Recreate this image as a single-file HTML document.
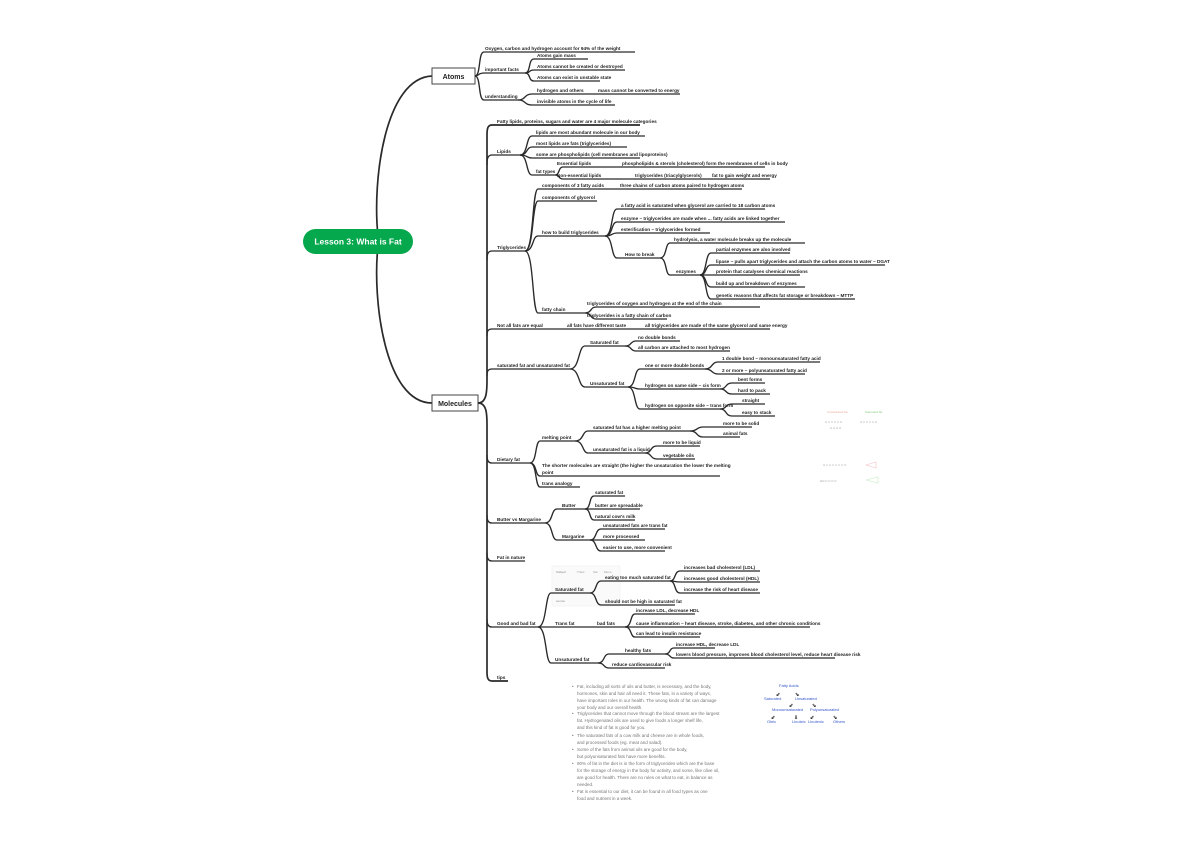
<!DOCTYPE html>
<html><head><meta charset="utf-8"><style>
html,body{margin:0;padding:0;background:#fff;}
svg{display:block;}
text{font-family:"Liberation Sans",sans-serif;font-size:4.7px;font-weight:bold;fill:#222;}
.c{fill:none;stroke:#2a2a2a;stroke-width:1.35;}
.t{fill:none;stroke:#2a2a2a;stroke-width:1.7;}
.b text{fill:#777;font-size:4.5px;font-weight:normal;}
.bl{fill:#35c;font-size:4px;font-weight:normal;}
</style></head><body>
<svg width="1200" height="849" viewBox="0 0 1200 849" xmlns="http://www.w3.org/2000/svg">
<path class="t" d="M378 236 C372 180 385 78 432 76"/>
<path class="t" d="M378 246 C372 300 385 403 432 403"/>
<rect x="303" y="229" width="110" height="25" rx="12.5" fill="#06a84d"/>
<text x="358" y="244.5" text-anchor="middle" style="fill:#fff;font-size:8.5px;font-weight:bold">Lesson 3: What is Fat</text>
<rect x="432" y="68" width="43" height="16" fill="#fff" stroke="#444" stroke-width="1"/>
<text x="453.5" y="79" text-anchor="middle" style="font-size:7px;font-weight:bold">Atoms</text>
<rect x="432" y="395" width="46" height="16" fill="#fff" stroke="#444" stroke-width="1"/>
<text x="455" y="406" text-anchor="middle" style="font-size:7px;font-weight:bold">Molecules</text>

<g>
<path class="c" d="M475 76 C481 76 478 52 484 52 L635 52"/><text x="485" y="50">Oxygen, carbon and hydrogen account for 94% of the weight</text>
<path class="c" d="M475 76 C479 76 478 73 484 73 L525 73"/><text x="485" y="71">important facts</text>
<path class="c" d="M475 76 C481 76 478 100 484 100 L518 100"/><text x="485" y="98">understanding</text>
<path class="c" d="M525 73 C531 73 528 59 534 59 L588 59"/><text x="537" y="57">Atoms gain mass</text>
<path class="c" d="M525 73 C531 73 528 70 534 70 L625 70"/><text x="537" y="68">Atoms cannot be created or destroyed</text>
<path class="c" d="M525 73 C531 73 528 81 534 81 L600 81"/><text x="537" y="79">Atoms can exist in unstable state</text>
<path class="c" d="M518 100 C526 100 524 94 532 94 L680 94"/><text x="537" y="92">hydrogen and others</text><text x="598" y="92">mass cannot be converted to energy</text>
<path class="c" d="M518 100 C526 100 524 105 532 105 L615 105"/><text x="537" y="103">invisible atoms in the cycle of life</text>
</g>

<g>
<path class="t" d="M478 403 C487 403 487 390 487 380 L487 135 C487 128 488 125 492 125 L640 125"/><text x="497" y="123">Fatty lipids, proteins, sugars and water are 4 major molecule categories</text>
<path class="t" d="M478 403 C487 403 487 415 487 425 L487 672 C487 678 488 681 492 681 L508 681"/><text x="497" y="679">tips</text>
<path class="c" d="M487 165 C487 158 488 155 492 155 L520 155"/><text x="497" y="153">Lipids</text>
<path class="c" d="M487 260 C487 254 488 251 492 251 L525 251"/><text x="497" y="249">Triglycerides</text>
<path class="c" d="M487 336 C487 331 488 329 492 329 L770 329"/><text x="497" y="327">Not all fats are equal</text><text x="567" y="327">all fats have different taste</text><text x="645" y="327">all triglycerides are made of the same glycerol and same energy</text>
<path class="c" d="M487 376 C487 371 488 369 492 369 L570 369"/><text x="497" y="367">saturated fat and unsaturated fat</text>
<path class="c" d="M487 455 C487 460 488 463 492 463 L530 463"/><text x="497" y="461">Dietary fat</text>
<path class="c" d="M487 515 C487 520 488 523 492 523 L545 523"/><text x="497" y="521">Butter vs Margarine</text>
<path class="c" d="M487 553 C487 558 488 561 492 561 L525 561"/><text x="497" y="559">Fat in nature</text>
<path class="c" d="M487 619 C487 624 488 627 492 627 L538 627"/><text x="497" y="625">Good and bad fat</text>
</g>

<g>
<path class="c" d="M520 155 C528 155 526 136 532 136 L645 136"/><text x="536" y="134">lipids are most abundant molecule in our body</text>
<path class="c" d="M520 155 C528 155 526 147 532 147 L627 147"/><text x="536" y="145">most lipids are fats (triglycerides)</text>
<path class="c" d="M520 155 C528 155 526 158 532 158 L640 158"/><text x="536" y="156">some are phospholipids (cell membranes and lipoproteins)</text>
<path class="c" d="M520 155 C528 155 526 175 532 175 L555 175"/><text x="536" y="173">fat types</text>
<path class="c" d="M555 175 C560 175 558 167 563 167 L765 167"/><text x="557" y="165">Essential lipids</text><text x="622" y="165">phospholipids &amp; sterols (cholesterol) form the membranes of cells in body</text>
<path class="c" d="M555 175 C560 175 558 179 563 179 L770 179"/><text x="557" y="177">Non-essential lipids</text><text x="635" y="177">triglycerides (triacylglycerols)</text><text x="712" y="177">fat to gain weight and energy</text>
</g>

<g>
<path class="c" d="M525 251 C534 251 532 189 538 189 L742 189"/><text x="542" y="187">components of 3 fatty acids</text><text x="620" y="187">three chains of carbon atoms paired to hydrogen atoms</text>
<path class="c" d="M525 251 C534 251 532 201 538 201 L597 201"/><text x="542" y="199">components of glycerol</text>
<path class="c" d="M525 251 C534 251 532 236 538 236 L605 236"/><text x="542" y="234">how to build triglycerides</text>
<path class="c" d="M525 251 C534 251 532 313 538 313 L585 313"/><text x="542" y="311">fatty chain</text>
<path class="c" d="M605 236 C613 236 611 209 617 209 L765 209"/><text x="621" y="207">a fatty acid is saturated when glycerol are carried to 18 carbon atoms</text>
<path class="c" d="M605 236 C613 236 611 222 617 222 L785 222"/><text x="621" y="220">enzyme – triglycerides are made when ... fatty acids are linked together</text>
<path class="c" d="M605 236 C613 236 611 233 617 233 L710 233"/><text x="621" y="231">esterification – triglycerides formed</text>
<path class="c" d="M605 236 C613 236 611 258 617 258 L660 258"/><text x="625" y="256">How to break</text>
<path class="c" d="M660 258 C667 258 665 243 670 243 L805 243"/><text x="674" y="241">hydrolysis, a water molecule breaks up the molecule</text>
<path class="c" d="M660 258 C667 258 665 275 670 275 L700 275"/><text x="676" y="273">enzymes</text>
<path class="c" d="M700 275 C707 275 705 253 711 253 L790 253"/><text x="716" y="251">partial enzymes are also involved</text>
<path class="c" d="M700 275 C707 275 705 265 711 265 L885 265"/><text x="716" y="263">lipase – pulls apart triglycerides and attach the carbon atoms to water – DGAT</text>
<path class="c" d="M700 275 C707 275 705 275 711 275 L800 275"/><text x="716" y="273">protein that catalyses chemical reactions</text>
<path class="c" d="M700 275 C707 275 705 287 711 287 L805 287"/><text x="716" y="285">build up and breakdown of enzymes</text>
<path class="c" d="M700 275 C707 275 705 299 711 299 L855 299"/><text x="716" y="297">genetic reasons that affects fat storage or breakdown – MTTP</text>
<path class="c" d="M585 313 C592 313 590 307 596 307 L760 307"/><text x="587" y="305">triglycerides of oxygen and hydrogen at the end of the chain</text>
<path class="c" d="M585 313 C592 313 590 319 596 319 L667 319"/><text x="587" y="317">triglycerides is a fatty chain of carbon</text>
</g>

<g>
<path class="c" d="M570 369 C580 369 578 346 585 346 L625 346"/><text x="590" y="344">Saturated fat</text>
<path class="c" d="M570 369 C580 369 578 387 585 387 L628 387"/><text x="590" y="385">Unsaturated fat</text>
<path class="c" d="M625 346 C632 346 630 341 636 341 L680 341"/><text x="638" y="339">no double bonds</text>
<path class="c" d="M625 346 C632 346 630 351 636 351 L730 351"/><text x="638" y="349">all carbon are attached to most hydrogen</text>
<path class="c" d="M628 387 C636 387 634 369 640 369 L705 369"/><text x="645" y="367">one or more double bonds</text>
<path class="c" d="M628 387 C636 387 634 389 640 389 L720 389"/><text x="645" y="387">hydrogen on same side – cis form</text>
<path class="c" d="M628 387 C636 387 634 409 640 409 L720 409"/><text x="645" y="407">hydrogen on opposite side – trans form</text>
<path class="c" d="M705 369 C713 369 711 362 718 362 L820 362"/><text x="722" y="360">1 double bond – monounsaturated fatty acid</text>
<path class="c" d="M705 369 C713 369 711 374 718 374 L805 374"/><text x="722" y="372">2 or more – polyunsaturated fatty acid</text>
<path class="c" d="M720 389 C727 389 725 383 732 383 L765 383"/><text x="738" y="381">bent forms</text>
<path class="c" d="M720 389 C727 389 725 394 732 394 L770 394"/><text x="738" y="392">hard to pack</text>
<path class="c" d="M720 409 C727 409 725 404 732 404 L765 404"/><text x="742" y="402">straight</text>
<path class="c" d="M720 409 C727 409 725 416 732 416 L775 416"/><text x="742" y="414">easy to stack</text>
</g>

<g>
<path class="c" d="M530 463 C537 463 535 441 540 441 L575 441"/><text x="542" y="439">melting point</text>
<path class="c" d="M530 463 C537 463 535 476 540 476 L720 476"/><text x="542" y="467">The shorter molecules are straight (the higher the unsaturation the lower the melting</text><text x="542" y="474">point</text>
<path class="c" d="M530 463 C537 463 535 487 540 487 L580 487"/><text x="542" y="485">trans analogy</text>
<path class="c" d="M575 441 C584 441 582 431 588 431 L690 431"/><text x="593" y="429">saturated fat has a higher melting point</text>
<path class="c" d="M575 441 C584 441 582 453 588 453 L645 453"/><text x="593" y="451">unsaturated fat is a liquid</text>
<path class="c" d="M690 431 C698 431 696 427 703 427 L752 427"/><text x="723" y="425">more to be solid</text>
<path class="c" d="M690 431 C698 431 696 437 703 437 L740 437"/><text x="723" y="435">animal fats</text>
<path class="c" d="M645 453 C652 453 650 446 657 446 L700 446"/><text x="663" y="444">more to be liquid</text>
<path class="c" d="M645 453 C652 453 650 459 657 459 L695 459"/><text x="663" y="457">vegetable oils</text>
</g>

<g>
<path class="c" d="M545 523 C553 523 551 509 557 509 L585 509"/><text x="562" y="507">Butter</text>
<path class="c" d="M545 523 C553 523 551 540 557 540 L590 540"/><text x="562" y="538">Margarine</text>
<path class="c" d="M585 509 C591 509 589 496 594 496 L625 496"/><text x="595" y="494">saturated fat</text>
<path class="c" d="M585 509 C591 509 589 509 594 509 L640 509"/><text x="595" y="507">butter are spreadable</text>
<path class="c" d="M585 509 C591 509 589 520 594 520 L635 520"/><text x="595" y="518">natural cow's milk</text>
<path class="c" d="M590 540 C597 540 595 529 601 529 L665 529"/><text x="603" y="527">unsaturated fats are trans fat</text>
<path class="c" d="M590 540 C597 540 595 540 601 540 L645 540"/><text x="603" y="538">more processed</text>
<path class="c" d="M590 540 C597 540 595 551 601 551 L665 551"/><text x="603" y="549">easier to use, more convenient</text>
</g>

<g>
<rect x="552" y="566" width="68" height="40" fill="#fafafa" stroke="#eee" stroke-width="0.5"/>
<text x="556" y="573" style="font-size:3px;fill:#888;font-weight:normal">Subject</text><text x="577" y="573" style="font-size:3px;fill:#999;font-weight:normal">Trans</text><text x="593" y="573" style="font-size:3px;fill:#999;font-weight:normal">Sat</text><text x="604" y="573" style="font-size:3px;fill:#999;font-weight:normal">Mono</text>
<text x="556" y="602" style="font-size:3px;fill:#888;font-weight:normal">source</text>
</g>

<g>
<path class="c" d="M538 627 C547 627 545 593 551 593 L590 593"/><text x="555" y="591">Saturated fat</text>
<path class="c" d="M538 627 C547 627 545 627 551 627 L580 627"/><text x="555" y="625">Trans fat</text>
<path class="c" d="M538 627 C547 627 545 663 551 663 L598 663"/><text x="555" y="661">Unsaturated fat</text>
<path class="c" d="M590 593 C597 593 595 581 601 581 L670 581"/><text x="605" y="579">eating too much saturated fat</text>
<path class="c" d="M590 593 C597 593 595 605 601 605 L675 605"/><text x="605" y="603">should not be high in saturated fat</text>
<path class="c" d="M670 581 C676 581 674 571 680 571 L760 571"/><text x="684" y="569">increases bad cholesterol (LDL)</text>
<path class="c" d="M670 581 C676 581 674 582 680 582 L760 582"/><text x="684" y="580">increases good cholesterol (HDL)</text>
<path class="c" d="M670 581 C676 581 674 593 680 593 L760 593"/><text x="684" y="591">increase the risk of heart disease</text>
<path class="c" d="M580 627 L625 627"/><text x="597" y="625">bad fats</text>
<path class="c" d="M625 627 C632 627 630 614 635 614 L695 614"/><text x="636" y="612">increase LDL, decrease HDL</text>
<path class="c" d="M625 627 C632 627 630 627 635 627 L810 627"/><text x="636" y="625">cause inflammation – heart disease, stroke, diabetes, and other chronic conditions</text>
<path class="c" d="M625 627 C632 627 630 637 635 637 L700 637"/><text x="636" y="635">can lead to insulin resistance</text>
<path class="c" d="M598 663 C605 663 603 654 609 654 L665 654"/><text x="625" y="652">healthy fats</text>
<path class="c" d="M598 663 C605 663 603 668 609 668 L665 668"/><text x="612" y="666">reduce cardiovascular risk</text>
<path class="c" d="M665 654 C671 654 669 648 674 648 L715 648"/><text x="676" y="646">increase HDL, decrease LDL</text>
<path class="c" d="M665 654 C671 654 669 658 674 658 L835 658"/><text x="676" y="656">lowers blood pressure, improves blood cholesterol level, reduce heart disease risk</text>
</g>

<g opacity="0.6">
<text x="827" y="413" style="font-size:3px;fill:#e07050;font-weight:normal">Unsaturated fat</text>
<text x="865" y="413" style="font-size:3px;fill:#3a3;font-weight:normal">Saturated fat</text>
<text x="825" y="423" style="font-size:3px;fill:#777;font-weight:normal">H C C C C H</text><text x="860" y="423" style="font-size:3px;fill:#777;font-weight:normal">H C C C C H</text>
<text x="830" y="429" style="font-size:3px;fill:#777;font-weight:normal">H H H H</text>
<text x="823" y="466" style="font-size:3px;fill:#777;font-weight:normal">H C C C C C C O</text>
<text x="820" y="482" style="font-size:3px;fill:#555;font-weight:normal">HO C C C C</text>
<path d="M866 465 l10 -3 v6 z" fill="none" stroke="#e99" stroke-width="0.6"/>
<path d="M866 480 l12 -3 v6 z" fill="none" stroke="#9d9" stroke-width="0.6"/>
</g>

<g class="b">
<text x="572" y="688">•</text><text x="577" y="688">Fat, including all sorts of oils and butter, is necessary, and the body,</text>
<text x="577" y="695">hormones, skin and hair all need it. These fats, in a variety of ways,</text>
<text x="577" y="702">have important roles in our health. The wrong kinds of fat can damage</text>
<text x="577" y="709">your body and our overall health.</text>
<text x="572" y="715">•</text><text x="577" y="715">Triglycerides that cannot move through the blood stream are the largest</text>
<text x="577" y="722">fat. Hydrogenated oils are used to give foods a longer shelf life,</text>
<text x="577" y="729">and this kind of fat is good for you.</text>
<text x="572" y="737">•</text><text x="577" y="737">The saturated fats of a cow milk and cheese are in whole foods,</text>
<text x="577" y="744">and processed foods (eg. meat and salad).</text>
<text x="572" y="751">•</text><text x="577" y="751">Some of the fats from animal oils are good for the body,</text>
<text x="577" y="758">but polyunsaturated fats have more benefits.</text>
<text x="572" y="765">•</text><text x="577" y="765">90% of fat in the diet is in the form of triglycerides which are the base</text>
<text x="577" y="772">for the storage of energy in the body for activity, and some, like olive oil,</text>
<text x="577" y="779">are good for health. There are no rules on what to eat, in balance as</text>
<text x="577" y="786">needed.</text>
<text x="572" y="793">•</text><text x="577" y="793">Fat is essential to our diet, it can be found in all food types as one</text>
<text x="577" y="800">food and nutrient in a week.</text>
</g>

<g>
<text x="779" y="687" class="bl">Fatty Acids</text>
<text x="776" y="696" style="font-size:5px;fill:#222">⇙</text><text x="795" y="696" style="font-size:5px;fill:#222">⇘</text>
<text x="764" y="700" class="bl">Saturated</text><text x="795" y="700" class="bl">Unsaturated</text>
<text x="789" y="707" style="font-size:5px;fill:#222">⇙</text><text x="812" y="707" style="font-size:5px;fill:#222">⇘</text>
<text x="772" y="711" class="bl">Monounsaturated</text><text x="810" y="711" class="bl">Polyunsaturated</text>
<text x="771" y="719" style="font-size:5px;fill:#222">⇙</text><text x="794" y="719" style="font-size:5px;fill:#222">⇓</text><text x="810" y="719" style="font-size:5px;fill:#222">⇙</text><text x="833" y="719" style="font-size:5px;fill:#222">⇘</text>
<text x="767" y="723" class="bl">Oleic</text><text x="792" y="723" class="bl">Linoleic</text><text x="808" y="723" class="bl">Linolenic</text><text x="833" y="723" class="bl">Others</text>
</g>
</svg>
</body></html>
